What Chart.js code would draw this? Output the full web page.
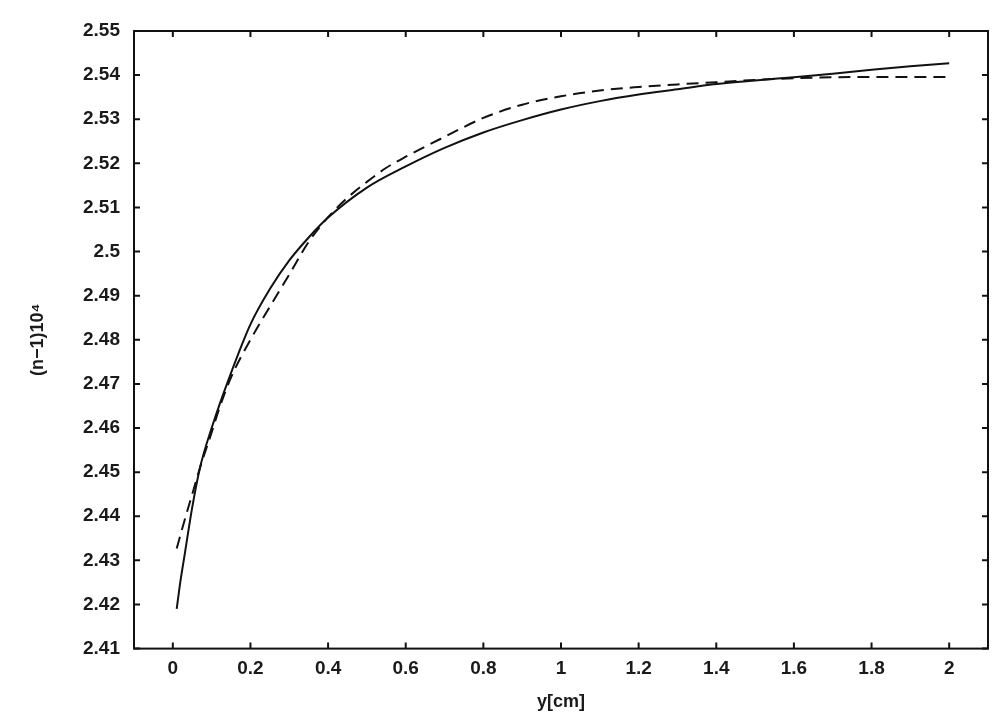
<!DOCTYPE html>
<html>
<head>
<meta charset="utf-8">
<script src="https://cdn.jsdelivr.net/npm/chart.js@4.4.1/dist/chart.umd.min.js"></script>
<style>
html,body{margin:0;padding:0;background:#fff;}
#wrap{width:1008px;height:725px;position:relative;}
</style>
</head>
<body>
<div id="wrap"><canvas id="c" width="1008" height="725"></canvas></div>
<script>
const xTicks = [0, 0.2, 0.4, 0.6, 0.8, 1, 1.2, 1.4, 1.6, 1.8, 2];
const yTicks = [2.41, 2.42, 2.43, 2.44, 2.45, 2.46, 2.47, 2.48, 2.49, 2.5, 2.51, 2.52, 2.53, 2.54, 2.55];

const solidX = [0.01, 0.02, 0.03, 0.05, 0.07, 0.1, 0.15, 0.2, 0.25, 0.3, 0.35, 0.4, 0.5, 0.6, 0.7, 0.8, 0.9, 1.0, 1.1, 1.2, 1.3, 1.4, 1.5, 1.6, 1.7, 1.8, 1.9, 2.0];
const solidY = [2.419, 2.4255, 2.431, 2.442, 2.451, 2.460, 2.4725, 2.4835, 2.4915, 2.498, 2.5032, 2.5077, 2.5145, 2.5193, 2.5235, 2.527, 2.5298, 2.5322, 2.5341, 2.5356, 2.5368, 2.538, 2.5388, 2.5395, 2.5403, 2.5412, 2.542, 2.5427];

const dashX = [0.01, 0.03, 0.05, 0.07, 0.1, 0.12, 0.15, 0.2, 0.25, 0.3, 0.35, 0.4, 0.45, 0.5, 0.55, 0.6, 0.7, 0.8, 0.9, 1.0, 1.1, 1.2, 1.3, 1.4, 1.5, 1.6, 1.7, 1.8, 1.9, 2.0];
const dashY = [2.4327, 2.439, 2.445, 2.451, 2.459, 2.4645, 2.4715, 2.480, 2.4875, 2.4948, 2.5022, 2.5078, 2.5122, 2.5158, 2.519, 2.5215, 2.526, 2.5303, 2.5333, 2.5352, 2.5365, 2.5373, 2.5379, 2.5384, 2.5389, 2.5393, 2.5395, 2.5396, 2.5396, 2.5396];

const toPts = (xs, ys) => xs.map((x, i) => ({x: x, y: ys[i]}));

const framePlugin = {
  id: 'frame',
  afterDatasetsDraw(chart) {
    const ctx = chart.ctx;
    const a = chart.chartArea;
    const xs = chart.scales.x, ys = chart.scales.y;
    const tl = 6;
    ctx.save();
    ctx.strokeStyle = '#111';
    ctx.lineWidth = 2;
    ctx.strokeRect(a.left, a.top, a.right - a.left, a.bottom - a.top);
    ctx.beginPath();
    xTicks.forEach(v => {
      const px = xs.getPixelForValue(v);
      ctx.moveTo(px, a.bottom); ctx.lineTo(px, a.bottom - tl);
      ctx.moveTo(px, a.top); ctx.lineTo(px, a.top + tl);
    });
    yTicks.forEach(v => {
      const py = ys.getPixelForValue(v);
      ctx.moveTo(a.left, py); ctx.lineTo(a.left + tl, py);
      ctx.moveTo(a.right, py); ctx.lineTo(a.right - tl, py);
    });
    ctx.stroke();
    ctx.restore();
  }
};

const fmt = v => String(+(+v).toFixed(2));

new Chart(document.getElementById('c'), {
  type: 'line',
  data: {
    datasets: [
      {
        data: toPts(solidX, solidY),
        borderColor: '#111',
        borderWidth: 2,
        pointRadius: 0,
        tension: 0.4,
        cubicInterpolationMode: 'monotone',
        fill: false
      },
      {
        data: toPts(dashX, dashY),
        borderColor: '#111',
        borderWidth: 2,
        borderDash: [12, 7],
        pointRadius: 0,
        tension: 0.4,
        cubicInterpolationMode: 'monotone',
        fill: false
      }
    ]
  },
  options: {
    responsive: false,
    animation: false,
    devicePixelRatio: 1,
    layout: {padding: {left: 24, right: 20, top: 31, bottom: 12}},
    plugins: {legend: {display: false}, tooltip: {enabled: false}},
    scales: {
      x: {
        type: 'linear',
        min: -0.1, max: 2.1,
        afterBuildTicks: s => { s.ticks = xTicks.map(v => ({value: v})); },
        grid: {display: false, drawTicks: false},
        border: {display: false},
        ticks: {
          color: '#1a1a1a', padding: 9,
          font: {family: 'Liberation Sans', size: 19, weight: 'bold'},
          callback: fmt, maxRotation: 0, autoSkip: false
        },
        title: {
          display: true, text: 'y[cm]', color: '#1a1a1a',
          font: {family: 'Liberation Sans', size: 18, weight: 'bold'},
          padding: {top: 2, bottom: 0}
        }
      },
      y: {
        type: 'linear',
        min: 2.41, max: 2.55,
        afterBuildTicks: s => { s.ticks = yTicks.map(v => ({value: v})); },
        afterFit: s => { s.width = 110; },
        grid: {display: false, drawTicks: false},
        border: {display: false},
        ticks: {
          color: '#1a1a1a', padding: 14,
          font: {family: 'Liberation Sans', size: 19, weight: 'bold'},
          callback: fmt, autoSkip: false
        },
        title: {
          display: true, text: '(n\u22121)10\u2074', color: '#1a1a1a',
          font: {family: 'Liberation Sans', size: 18, weight: 'bold'},
          padding: {top: 3, bottom: 0}
        }
      }
    }
  },
  plugins: [framePlugin]
});
</script>
</body>
</html>
